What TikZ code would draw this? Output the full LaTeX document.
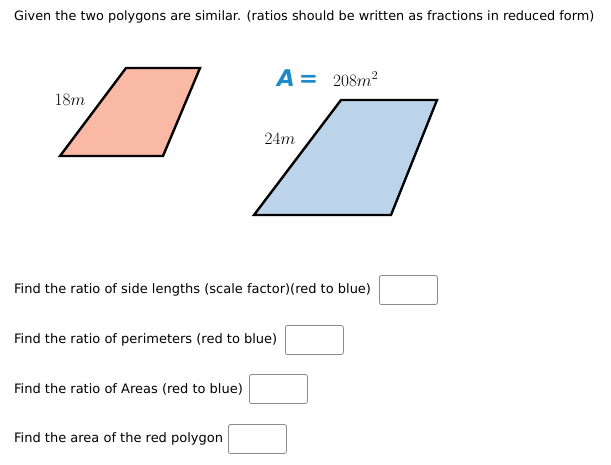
\documentclass[tikz,border=0pt]{standalone}
\usepackage{fontspec}
\setmainfont{DejaVu Sans}
\usepackage{tikz}
\definecolor{redfill}{HTML}{F9B9A4}
\definecolor{bluefill}{HTML}{BCD4EA}
\definecolor{areablue}{HTML}{1A8AC8}
\definecolor{boxgray}{HTML}{8C8C8C}
\tikzset{
	question/.style={anchor=west,inner sep=0pt,font=\fontsize{13}{15}\selectfont},
	answerbox/.style={draw=boxgray,rounded corners=2pt,line width=0.8pt,minimum width=58pt,minimum height=29pt,inner sep=0pt},
	sidelabel/.style={inner sep=0pt,font=\fontsize{17}{20}\selectfont}
}
\begin{document}
\begin{tikzpicture}[x=1pt,y=-1pt]
	\useasboundingbox (0,0) rectangle (611,464);
	
	\node[question,font=\fontsize{12.85}{15}\selectfont] (title) at (14,17) {Given the two polygons are similar. (ratios should be written as fractions in reduced form)};
	
	\draw[line width=2.4pt,line join=miter,fill=redfill] (126,68)--(200,68)--(163,156)--(60,156)--cycle;	%red polygon
	\draw[line width=2.4pt,line join=miter,fill=bluefill] (341,100)--(437,100)--(391,215)--(254,215)--cycle;	%blue polygon
	
	\node[sidelabel] (redside) at (70,100) {$18m$};
	\node[sidelabel] (blueside) at (280,139) {$24m$};
	\node[anchor=base west,inner sep=0pt,text=areablue,font=\fontsize{23}{26}\selectfont\bfseries] (areaA) at (277,86) {\itshape A\upshape\,=};
	\node[sidelabel,anchor=base west] (areaval) at (333,86) {$208m^2$};
	%
	\node[question] (q1) at (14,290) {Find the ratio of side lengths (scale factor)(red to blue)};
	\node[answerbox,anchor=west] (b1) at (379,290) {};
	%
	\node[question] (q2) at (14,340) {Find the ratio of perimeters (red to blue)};
	\node[answerbox,anchor=west] (b2) at (285,340) {};
	%
	\node[question] (q3) at (14,389) {Find the ratio of Areas (red to blue)};
	\node[answerbox,anchor=west] (b3) at (249,389) {};
	%
	\node[question] (q4) at (14,439) {Find the area of the red polygon};
	\node[answerbox,anchor=west] (b4) at (228,439) {};
\end{tikzpicture}
\end{document}
